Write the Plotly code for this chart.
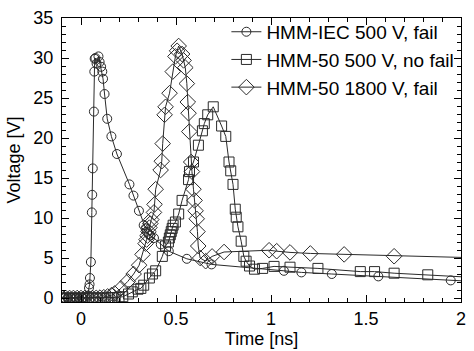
import plotly.graph_objects as go

# HMM-IEC 500 V, fail (circles)
iec_t = [-0.10, -0.085, -0.07, -0.055, -0.04, -0.025, -0.01, 0.005, 0.02, 0.035,
         0.042, 0.045, 0.047, 0.052, 0.057, 0.059, 0.062, 0.068, 0.070, 0.072,
         0.076, 0.082, 0.092, 0.098, 0.106, 0.112, 0.116, 0.124, 0.138, 0.160,
         0.189, 0.255, 0.276, 0.305, 0.330, 0.340, 0.348, 0.356, 0.365, 0.384,
         0.420, 0.462, 0.557, 0.687, 1.068, 1.16, 1.32, 1.565, 1.946, 2.2]
iec_v = [0.0, 0.0, 0.0, 0.0, 0.0, 0.0, 0.0, 0.0, 0.05, 0.3,
         1.26, 1.7, 2.5, 4.5, 10.7, 12.9, 16.2, 23.3, 28.3, 29.9,
         30.0, 29.3, 30.2, 29.5, 28.9, 28.3, 27.4, 25.5, 22.4, 20.2,
         18.0, 14.2, 12.8, 10.9, 9.1, 8.7, 8.3, 8.0, 7.8, 7.5,
         6.7, 5.85, 4.9, 4.2, 3.4, 3.2, 3.0, 2.7, 2.2, 1.9]

# HMM-50 500 V, no fail (squares)
h50_t = [-0.10, -0.08, -0.06, -0.04, -0.02, 0.0, 0.02, 0.04, 0.06, 0.08,
         0.10, 0.12, 0.14, 0.16, 0.18, 0.20, 0.22, 0.25, 0.27, 0.30,
         0.315, 0.33, 0.36, 0.376, 0.393, 0.428, 0.445, 0.46, 0.465, 0.47,
         0.475, 0.48, 0.485, 0.497, 0.514, 0.532, 0.566, 0.571, 0.592, 0.618,
         0.639, 0.649, 0.667, 0.696, 0.74, 0.762, 0.779, 0.788, 0.80, 0.812,
         0.817, 0.826, 0.843, 0.857, 0.869, 0.887, 0.913, 0.956, 1.016, 1.10,
         1.247, 1.47, 1.545, 1.648, 1.825, 2.2]
h50_v = [0.0, 0.0, 0.0, 0.0, 0.0, 0.0, 0.0, 0.0, 0.0, 0.0,
         0.0, 0.0, 0.02, 0.04, 0.06, 0.1, 0.16, 0.5, 0.77, 1.1,
         1.2, 1.6, 2.5, 3.0, 3.4, 5.2, 6.5, 7.0, 7.5, 7.9,
         8.3, 8.7, 9.1, 9.5, 10.5, 12.2, 14.8, 15.8, 17.0, 19.1,
         20.9, 21.8, 22.9, 23.9, 21.5, 20.2, 17.0, 15.9, 14.2, 11.1,
         10.1, 8.9, 7.1, 5.2, 4.6, 4.0, 3.6, 3.7, 3.95, 3.85,
         3.7, 3.3, 3.3, 3.1, 2.9, 2.4]

# HMM-50 1800 V, fail (diamonds)
h18_t = [-0.10, -0.08, -0.06, -0.04, -0.02, 0.0, 0.02, 0.04, 0.06, 0.08,
         0.10, 0.12, 0.14, 0.16, 0.177, 0.21, 0.246, 0.277, 0.306, 0.324,
         0.340, 0.345, 0.350, 0.355, 0.360, 0.365, 0.370, 0.384, 0.387, 0.393,
         0.419, 0.425, 0.430, 0.440, 0.445, 0.466, 0.483, 0.497, 0.506, 0.514,
         0.532, 0.540, 0.549, 0.557, 0.562, 0.566, 0.570, 0.580, 0.584, 0.592,
         0.598, 0.603, 0.609, 0.613, 0.617, 0.627, 0.656, 0.690, 0.753, 0.99,
         1.03, 1.10, 1.207, 1.385, 1.648, 2.2]
h18_v = [0.0, 0.0, 0.0, 0.0, 0.0, 0.0, 0.0, 0.0, 0.0, 0.02,
         0.05, 0.1, 0.2, 0.35, 0.57, 1.2, 2.07, 3.0, 4.1, 5.45,
         6.8, 7.3, 7.8, 8.3, 8.8, 9.3, 9.8, 10.7, 11.7, 13.6,
         16.0, 17.1, 19.3, 22.9, 23.9, 25.6, 28.3, 30.2, 30.9, 31.5,
         30.5, 29.7, 28.8, 26.8, 24.5, 23.1, 20.8, 17.0, 15.8, 13.6,
         12.2, 10.9, 9.9, 8.3, 6.5, 5.0, 4.6, 5.2, 5.75, 5.97,
         5.85, 5.7, 5.57, 5.45, 5.22, 4.95]

names = ["HMM-IEC 500 V, fail", "HMM-50 500 V, no fail", "HMM-50 1800 V, fail"]

FONT = "Liberation Sans, Arial, sans-serif"
line_col = "#2a2a2a"

fig = go.Figure()
fig.add_trace(go.Scatter(x=iec_t, y=iec_v, name=names[0], mode="lines+markers",
                         line=dict(color=line_col, width=1),
                         marker=dict(symbol="circle-open", size=9,
                                     color=line_col, line=dict(width=1))))
fig.add_trace(go.Scatter(x=h50_t, y=h50_v, name=names[1], mode="lines+markers",
                         line=dict(color=line_col, width=1),
                         marker=dict(symbol="square-open", size=10,
                                     color=line_col, line=dict(width=1))))
fig.add_trace(go.Scatter(x=h18_t, y=h18_v, name=names[2], mode="lines+markers",
                         line=dict(color=line_col, width=1),
                         marker=dict(symbol="diamond-open", size=12,
                                     color=line_col, line=dict(width=1))))

fig.update_layout(
    width=474, height=351,
    margin=dict(l=62, r=8, t=16, b=44),
    paper_bgcolor="white", plot_bgcolor="white",
    font=dict(family=FONT, size=18, color="black"),
    showlegend=True,
    legend=dict(x=0.412, y=1.018, xanchor="left", yanchor="top",
                bgcolor="rgba(0,0,0,0)", font=dict(size=19),
                tracegroupgap=0, itemwidth=30),
)
fig.update_xaxes(
    range=[-0.1, 2.0], tickvals=[0, 0.5, 1, 1.5, 2], ticktext=["0", "0.5", "1", "1.5", "2"],
    ticks="inside", ticklen=7, tickcolor="black", tickwidth=1,
    minor=dict(dtick=0.1, tick0=0, ticks="inside", ticklen=4, tickcolor="black"),
    showline=True, linecolor="black", linewidth=1, mirror="ticks",
    showgrid=False, zeroline=False,
    title=dict(text="Time [ns]", standoff=2, font=dict(size=18)),
)
fig.update_yaxes(
    range=[-0.5, 35], tickvals=[0, 5, 10, 15, 20, 25, 30, 35],
    ticks="inside", ticklen=7, tickcolor="black", tickwidth=1,
    minor=dict(dtick=1, tick0=0, ticks="inside", ticklen=4, tickcolor="black"),
    showline=True, linecolor="black", linewidth=1, mirror="ticks",
    showgrid=False, zeroline=False, ticklabelstandoff=4,
    title=dict(text="Voltage [V]", standoff=8, font=dict(size=18)),
)

fig.write_html("out.html")
